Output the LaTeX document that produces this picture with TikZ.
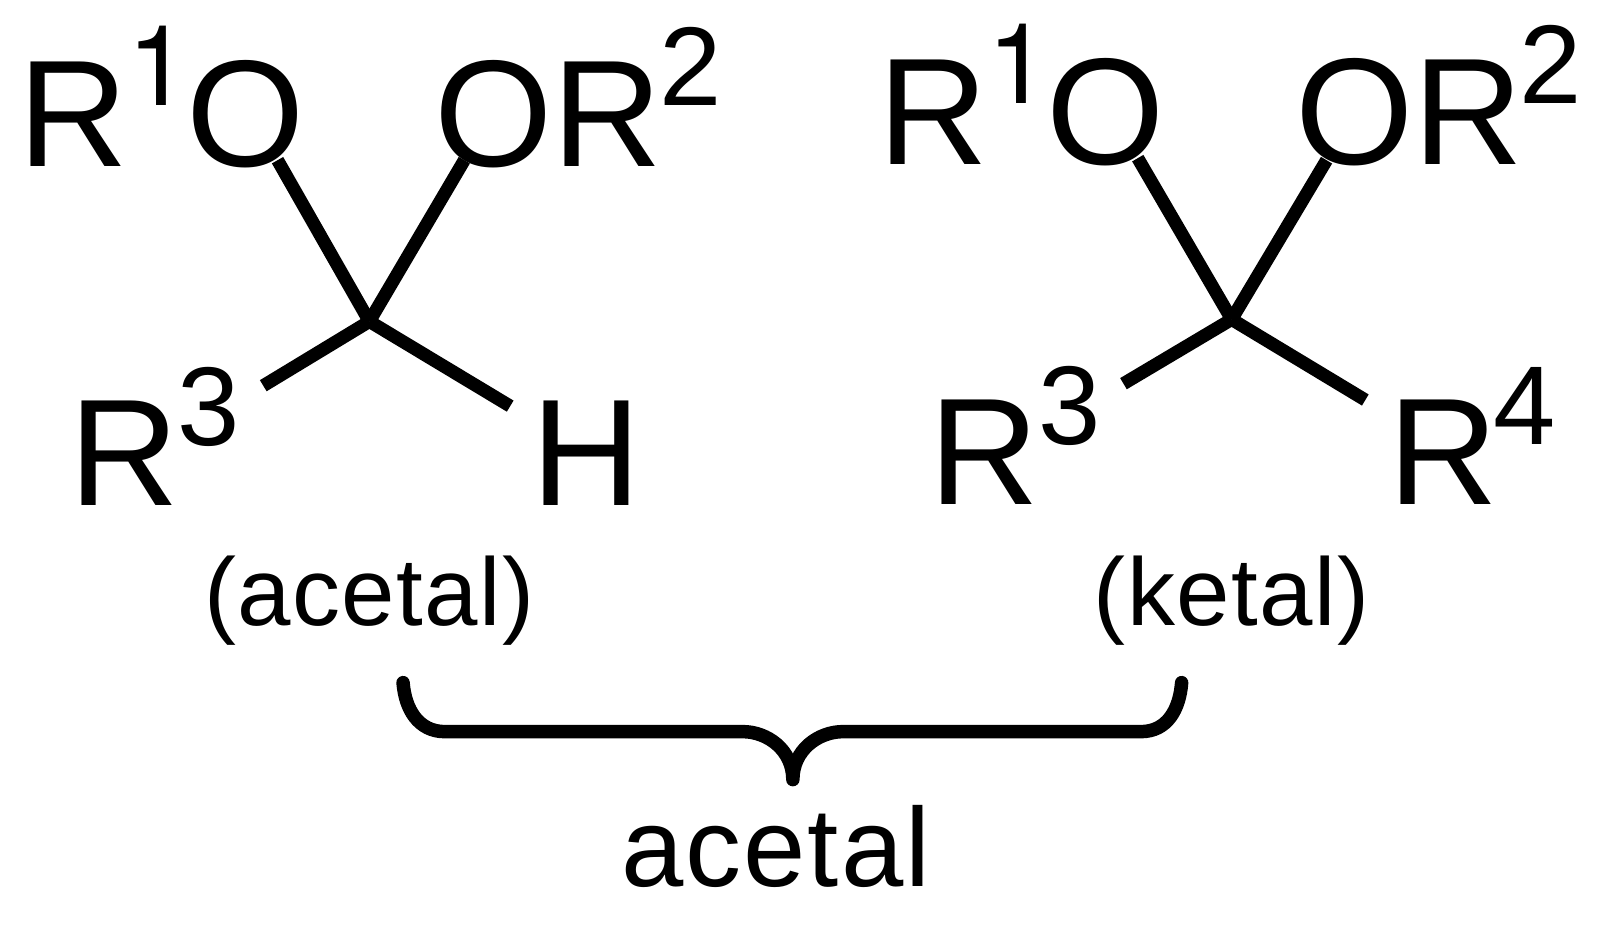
\documentclass[tikz,border=0pt]{standalone}
\usepackage{fontspec}
\setmainfont{Liberation Sans}
\newfontfamily\digitfont{TeX Gyre Heros}
\tikzset{
  atom/.style={anchor=base west,inner sep=0pt,outer sep=0pt,font=\fontsize{152}{152}\selectfont},
  supr/.style={anchor=base west,inner sep=0pt,outer sep=0pt,font=\fontsize{112}{112}\selectfont},
  supone/.style={anchor=base west,inner sep=0pt,outer sep=0pt,font=\digitfont\fontsize{112}{112}\selectfont},
  paren/.style={anchor=base west,inner sep=0pt,outer sep=0pt,font=\fontsize{96}{96}\selectfont\addfontfeature{LetterSpace=1.5}},
  lab/.style={anchor=base west,inner sep=0pt,outer sep=0pt,font=\fontsize{112}{112}\selectfont\addfontfeature{LetterSpace=1.8}},
  bond/.style={line width=13pt,line cap=butt},
  bracepath/.style={line width=13.5pt,line cap=round,line join=round}
}
\begin{document}
\begin{tikzpicture}[x=1.0204pt,y=-1.0204pt]
\useasboundingbox (0,0) rectangle (1568,908.45);
\fill[white] (0,0) rectangle (1568,908.45);
% left molecule
\node[atom] (ra) at (18.5,163) {R};
\node[supone] (s1a) at (125,103) {1};
\node[atom] (oa) at (183,163) {O};
\node[atom] (ob) at (426,163) {O};
\node[atom] (rb) at (541.5,163) {R};
\node[supr] (s2a) at (646,103) {2};
\node[atom] (rc) at (68.5,495) {R};
\node[supr] (s3a) at (173.5,437) {3};
\node[atom] (h) at (521,495) {H};
\node[paren] (lacetal) at (200,613) {(acetal)};
\coordinate (c1) at (362,315);
\coordinate (e1a) at (272,157);
\coordinate (e1b) at (455,157);
\coordinate (e1c) at (258,378);
\coordinate (e1d) at (500,398);
\draw[bond] (c1) -- (e1a);
\draw[bond] (c1) -- (e1b);
\draw[bond] (c1) -- (e1c);
\draw[bond] (c1) -- (e1d);
% right molecule
\node[atom] (rd) at (860.5,161) {R};
\node[supone] (s1b) at (968,101) {1};
\node[atom] (oc) at (1026,161) {O};
\node[atom] (od) at (1270,161) {O};
\node[atom] (re) at (1385.5,161) {R};
\node[supr] (s2b) at (1489,101) {2};
\node[atom] (rf) at (910.5,494) {R};
\node[supr] (s3b) at (1017.5,436) {3};
\node[atom] (rg) at (1360.5,494) {R};
\node[supr] (s4) at (1463.5,436) {4};
\node[paren] (lketal) at (1072,613) {(ketal)};
\coordinate (c2) at (1207,313);
\coordinate (e2a) at (1115,155);
\coordinate (e2b) at (1300,157);
\coordinate (e2c) at (1101,376);
\coordinate (e2d) at (1338,392);
\draw[bond] (c2) -- (e2a);
\draw[bond] (c2) -- (e2b);
\draw[bond] (c2) -- (e2c);
\draw[bond] (c2) -- (e2d);
% brace
\coordinate (bl) at (395,669);
\coordinate (bm) at (777,764);
\coordinate (br) at (1158,669);
\draw[bracepath] (bl) .. controls (397,695) and (410,717) .. (436,717)
  -- (728,717) .. controls (752,717) and (777,735) .. (bm)
  .. controls (777,735) and (802,717) .. (826,717)
  -- (1118,717) .. controls (1144,717) and (1156,695) .. (br);
\node[lab] (lbl) at (609,869) {acetal};
\end{tikzpicture}
\end{document}
